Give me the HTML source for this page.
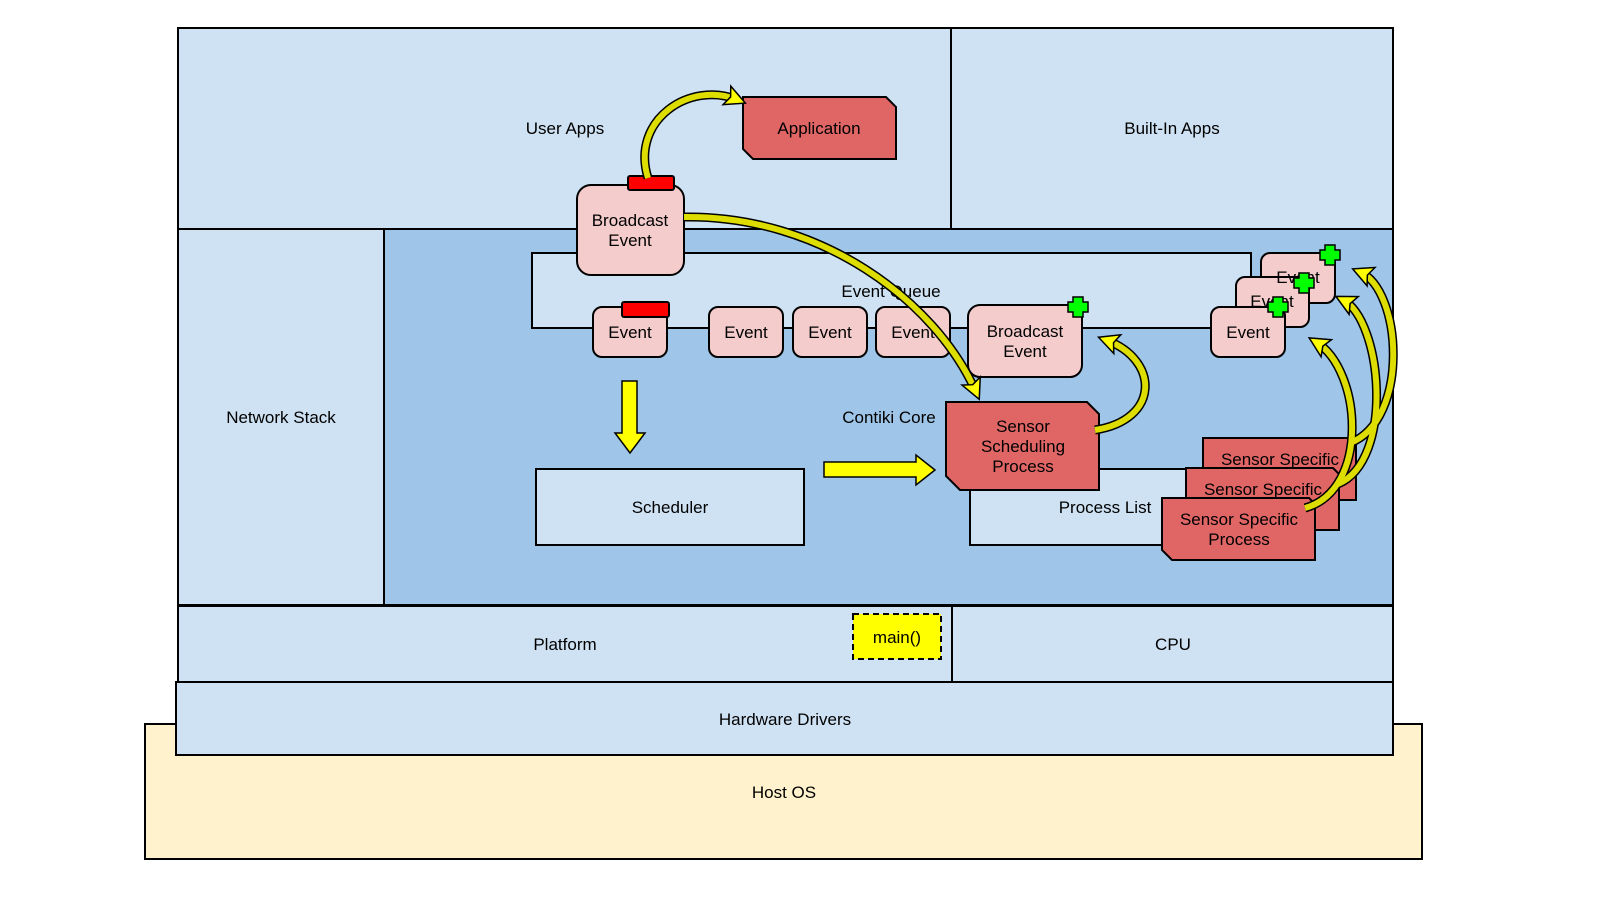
<!DOCTYPE html>
<html><head><meta charset="utf-8"><style>
html,body{margin:0;padding:0;background:#fff;}
svg{display:block;font-family:"Liberation Sans",Arial,sans-serif;}
text{font-size:17px;fill:#000;text-anchor:middle;}
</style></head><body>
<svg width="1600" height="906" viewBox="0 0 1600 906" xmlns="http://www.w3.org/2000/svg">
<defs>
<marker id="ah" markerUnits="userSpaceOnUse" markerWidth="24" markerHeight="24" refX="14" refY="12" orient="auto">
<polygon points="2,2 22,12 2,22 6,12" fill="#ffff00" stroke="#000" stroke-width="1.5"/>
</marker>
</defs>
<g stroke="#000" stroke-width="2">
<rect x="145" y="724" width="1277" height="135" fill="#fff2cc"/>
<rect x="176" y="682" width="1217" height="73" fill="#cfe2f3"/>
<rect x="178" y="28" width="773" height="201" fill="#cfe2f3"/>
<rect x="951" y="28" width="442" height="201" fill="#cfe2f3"/>
<rect x="178" y="229" width="206" height="376" fill="#cfe2f3"/>
<rect x="384" y="229" width="1009" height="376" fill="#9fc5e8"/>
<rect x="178" y="606" width="774" height="76" fill="#cfe2f3"/>
<rect x="952" y="606" width="441" height="76" fill="#cfe2f3"/>
<rect x="853" y="614" width="88" height="45" fill="#ffff00" stroke-dasharray="6,4"/>
<rect x="532" y="253" width="719" height="75" fill="#cfe2f3"/>
<rect x="536" y="469" width="268" height="76" fill="#cfe2f3"/>
<rect x="970" y="469" width="230" height="76" fill="#cfe2f3"/>
</g>
<text x="565" y="134">User Apps</text>
<text x="1172" y="134">Built-In Apps</text>
<text x="281" y="423">Network Stack</text>
<text x="889" y="423">Contiki Core</text>
<text x="891" y="297">Event Queue</text>
<text x="670" y="513">Scheduler</text>
<text x="1105" y="513">Process List</text>
<text x="565" y="650">Platform</text>
<text x="1173" y="650">CPU</text>
<text x="897" y="643">main()</text>
<text x="785" y="725">Hardware Drivers</text>
<text x="784" y="798">Host OS</text>

<g stroke="#000" stroke-width="2">
<polygon points="743,97 886,97 896,107 896,159 753,159 743,149" fill="#e06666"/>
<rect x="577" y="185" width="107" height="90" rx="14" fill="#f4cccc"/>
<rect x="628" y="176" width="46" height="14" rx="2" fill="#ff0000"/>
<rect x="593" y="307" width="74" height="50" rx="9" fill="#f4cccc"/>
<rect x="622" y="302" width="47" height="15" rx="2" fill="#ff0000"/>
<rect x="709" y="307" width="74" height="50" rx="9" fill="#f4cccc"/>
<rect x="793" y="307" width="74" height="50" rx="9" fill="#f4cccc"/>
<rect x="876" y="307" width="74" height="50" rx="9" fill="#f4cccc"/>
<rect x="968" y="305" width="114" height="72" rx="12" fill="#f4cccc"/>
<polygon points="946,402 1087,402 1099,414 1099,490 960,490 946,476" fill="#e06666"/>
<rect x="1261" y="253" width="74" height="50" rx="9" fill="#f4cccc"/>
<rect x="1236" y="277" width="73" height="50" rx="9" fill="#f4cccc"/>
<rect x="1211" y="307" width="74" height="50" rx="9" fill="#f4cccc"/>
<polygon points="1203,438 1350,438 1356,444 1356,500 1203,500" fill="#e06666"/>
<polygon points="1186,468 1333,468 1339,474 1339,530 1186,530" fill="#e06666"/>
<polygon points="1162,498 1309,498 1315,504 1315,560 1172,560 1162,550" fill="#e06666"/>
</g>
<text x="819" y="134">Application</text>
<text x="630" y="226">Broadcast</text><text x="630" y="246">Event</text>
<text x="630" y="338">Event</text>
<text x="746" y="338">Event</text>
<text x="830" y="338">Event</text>
<text x="913" y="338">Event</text>
<text x="1025" y="337">Broadcast</text><text x="1025" y="357">Event</text>
<text x="1023" y="432">Sensor</text><text x="1023" y="452">Scheduling</text><text x="1023" y="472">Process</text>
<text x="1298" y="283">Event</text>
<text x="1272" y="307">Event</text>
<text x="1248" y="338">Event</text>
<text x="1280" y="465">Sensor Specific</text>
<text x="1263" y="495">Sensor Specific</text>
<text x="1239" y="525">Sensor Specific</text><text x="1239" y="545">Process</text>

<g fill="#00ff00" stroke="#000" stroke-width="1.5">
<path d="M1072,297 h10 v5 h5 v10 h-5 v5 h-10 v-5 h-5 v-10 h5 z" transform="translate(1,0)"/>
<path d="M1325,245 h10 v5 h5 v10 h-5 v5 h-10 v-5 h-5 v-10 h5 z"/>
<path d="M1299,273 h10 v5 h5 v10 h-5 v5 h-10 v-5 h-5 v-10 h5 z"/>
<path d="M1273,297 h10 v5 h5 v10 h-5 v5 h-10 v-5 h-5 v-10 h5 z"/>
</g>

<polygon points="622,381 637,381 637,433 645,433 630,453 615,433 622,433" fill="#ffff00" stroke="#000" stroke-width="1.5"/>
<polygon points="824,462 916,462 916,455 935,470 916,485 916,477 824,477" fill="#ffff00" stroke="#000" stroke-width="1.5"/>

<g fill="none">
<g stroke="#000" stroke-width="9">
<path d="M648,178 C630,120 690,80 738,100"/>
<path d="M684,217 C820,215 935,300 976,392"/>
<path d="M1095,430 C1160,420 1160,360 1106,340"/>
<path d="M1305,508 C1370,490 1362,370 1316,342"/>
<path d="M1338,484 C1395,460 1382,320 1343,300"/>
<path d="M1350,443 C1410,420 1402,290 1360,272"/>
</g>
<g stroke="#dddd00" stroke-width="6">
<path d="M648,178 C630,120 690,80 738,100" marker-end="url(#ah)"/>
<path d="M684,217 C820,215 935,300 976,392" marker-end="url(#ah)"/>
<path d="M1095,430 C1160,420 1160,360 1106,340" marker-end="url(#ah)"/>
<path d="M1305,508 C1370,490 1362,370 1316,342" marker-end="url(#ah)"/>
<path d="M1338,484 C1395,460 1382,320 1343,300" marker-end="url(#ah)"/>
<path d="M1350,443 C1410,420 1402,290 1360,272" marker-end="url(#ah)"/>
</g>
</g>
</svg>
</body></html>
